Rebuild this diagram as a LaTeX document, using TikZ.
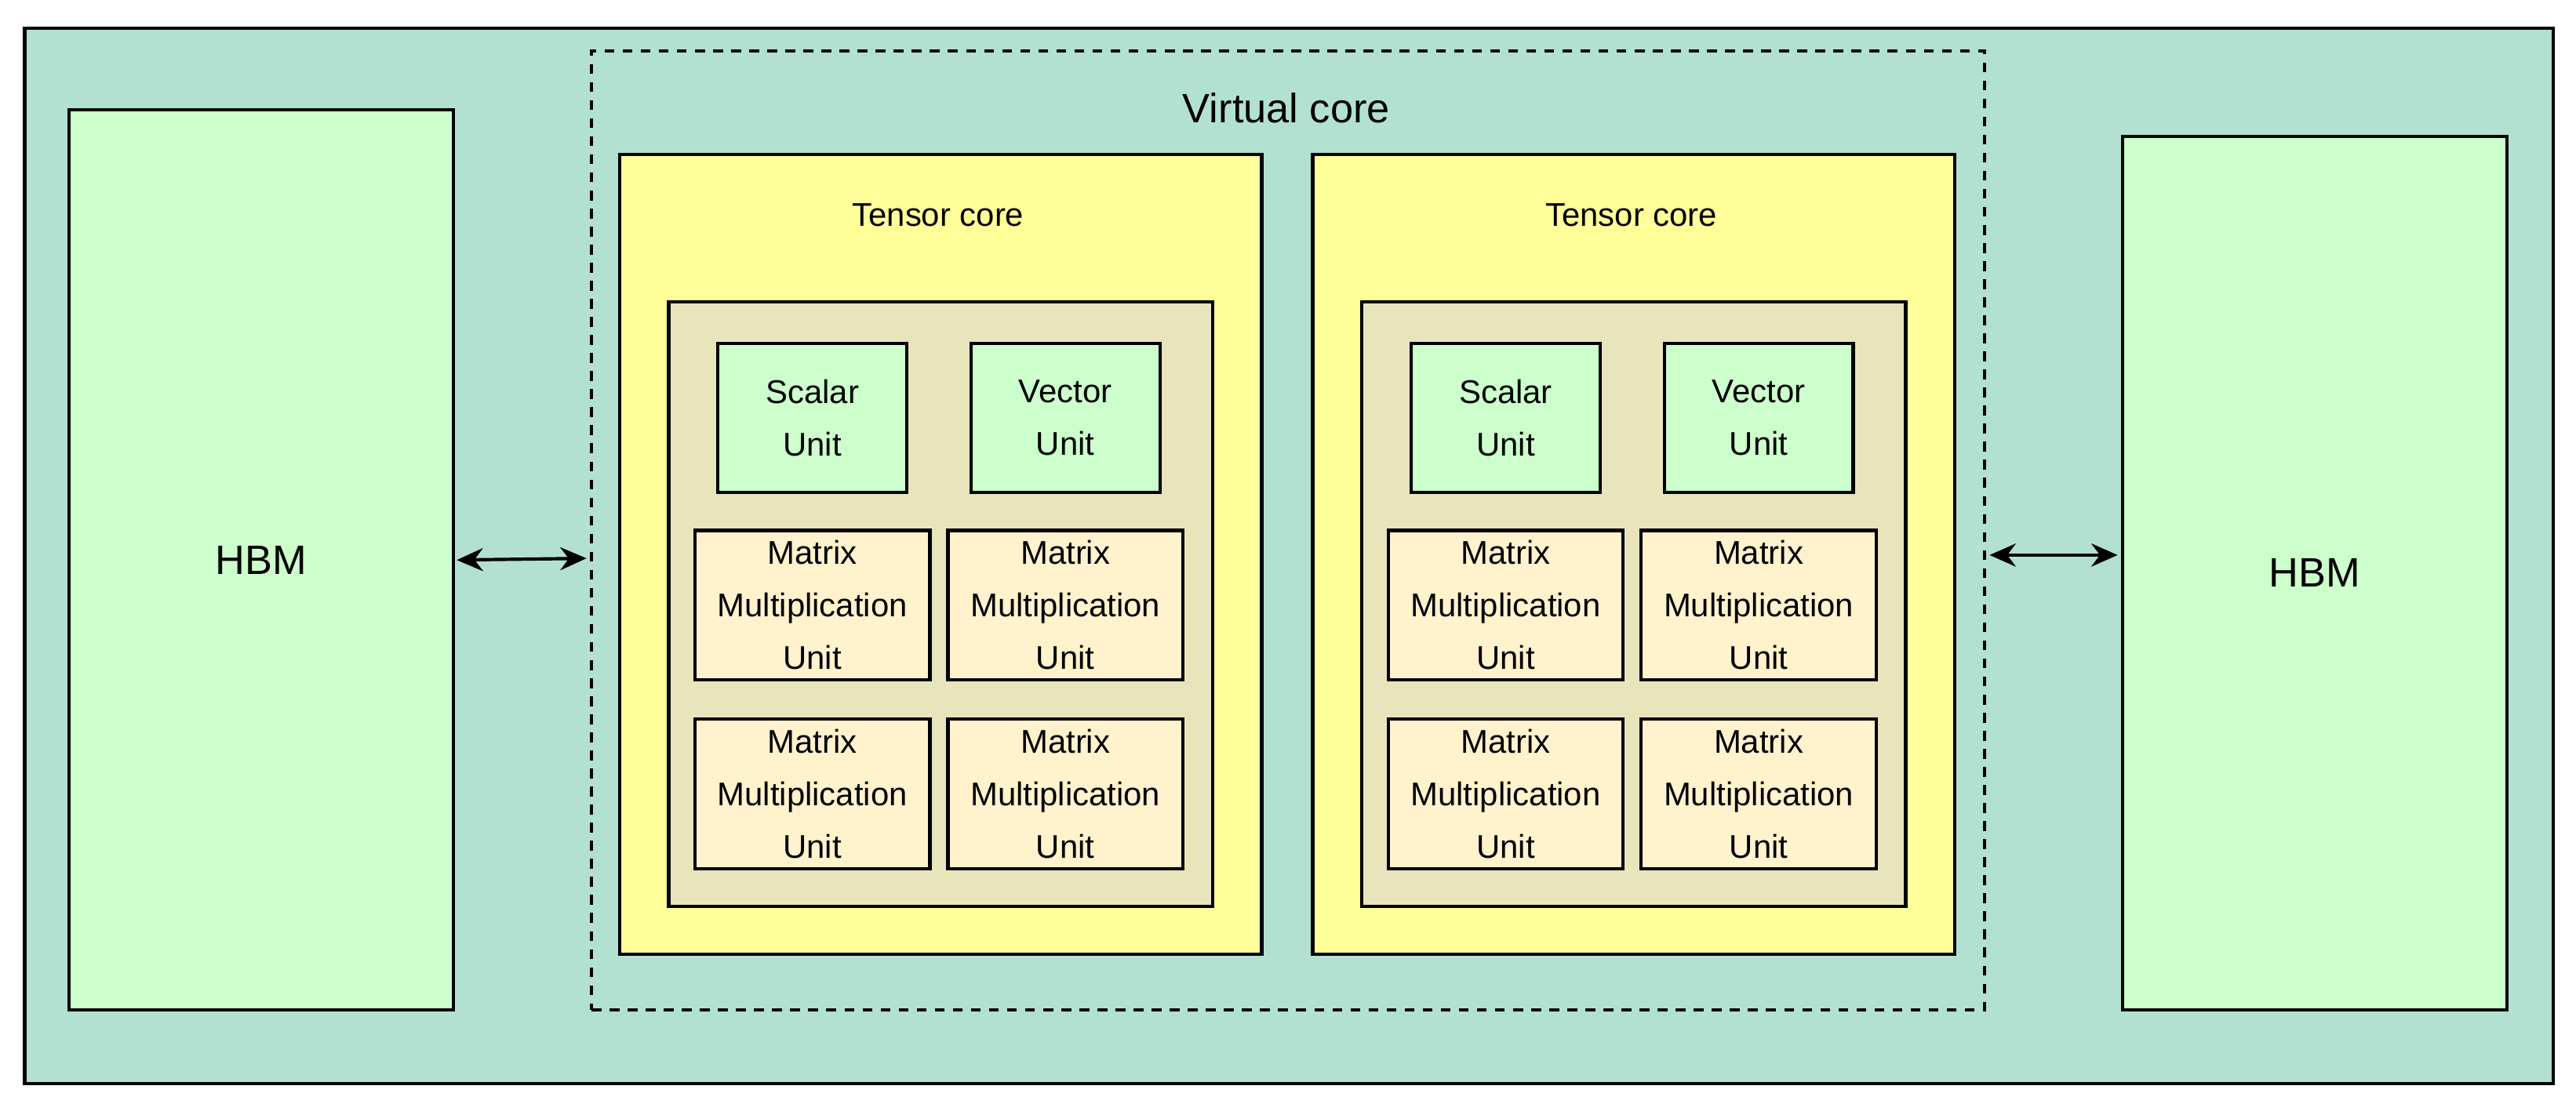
\documentclass[tikz,border=0pt]{standalone}
\usepackage{fontspec}
\usetikzlibrary{arrows.meta}
\setmainfont{Liberation Sans}
\definecolor{bgc}{RGB}{179,225,209}
\definecolor{hbm}{RGB}{204,255,204}
\definecolor{tc}{RGB}{255,255,153}
\definecolor{inn}{RGB}{232,228,188}
\definecolor{mm}{RGB}{255,242,204}
\begin{document}
\begin{tikzpicture}[x=1pt,y=-1pt,
  box/.style={draw=black,line width=2pt,anchor=north west,inner sep=0pt,align=center},
  unit/.style={box,font=\fontsize{20}{32}\selectfont},
  arr/.style={{Stealth[length=16pt,width=14pt]}-{Stealth[length=16pt,width=14pt]},line width=2pt}]
\useasboundingbox (0,0) rectangle (1568,671.8);
\node[box,fill=bgc,minimum width=1539,minimum height=643] (outer) at (14,16) {};
\node[box,fill=hbm,minimum width=234,minimum height=548,font=\fontsize{25}{30}\selectfont] (hbmL) at (41,66) {HBM};
\node[box,fill=hbm,minimum width=234,minimum height=532,font=\fontsize{25}{30}\selectfont] (hbmR) at (1291,82) {HBM};
\node[box,dash pattern=on 6pt off 5pt,minimum width=848,minimum height=584] (vc) at (359,30) {};
\node[font=\fontsize{25}{30}\selectfont] (vcl) at (783,66) {Virtual core};
\foreach \o/\n in {0/a,422/b}{
  \node[box,fill=tc,minimum width=391,minimum height=487] (tc\n) at (376+\o,93) {};
  \node[font=\fontsize{20}{24}\selectfont] (tcl\n) at (571+\o,131) {Tensor core};
  \node[box,fill=inn,minimum width=331,minimum height=368] (in\n) at (406+\o,183) {};
  \node[unit,fill=hbm,minimum width=115,minimum height=91] (s\n) at (436+\o,208) {Scalar\\Unit};
  \node[unit,fill=hbm,minimum width=115,minimum height=91] (v\n) at (590+\o,208) {Vector\\Unit};
  \node[unit,fill=mm,minimum width=143,minimum height=91] (m1\n) at (422+\o,322) {Matrix\\Multiplication\\Unit};
  \node[unit,fill=mm,minimum width=143,minimum height=91] (m2\n) at (576+\o,322) {Matrix\\Multiplication\\Unit};
  \node[unit,fill=mm,minimum width=143,minimum height=91] (m3\n) at (422+\o,437) {Matrix\\Multiplication\\Unit};
  \node[unit,fill=mm,minimum width=143,minimum height=91] (m4\n) at (576+\o,437) {Matrix\\Multiplication\\Unit};
}
\coordinate (a1) at ([xshift=1pt]hbmL.east|-0,341);
\coordinate (a2) at ([xshift=-2pt]vc.west|-0,340);
\draw[arr] (a1) -- (a2);
\coordinate (b1) at ([xshift=2pt]vc.east|-0,338);
\coordinate (b2) at ([xshift=-2pt]hbmR.west|-0,338);
\draw[arr] (b1) -- (b2);
\end{tikzpicture}
\end{document}
